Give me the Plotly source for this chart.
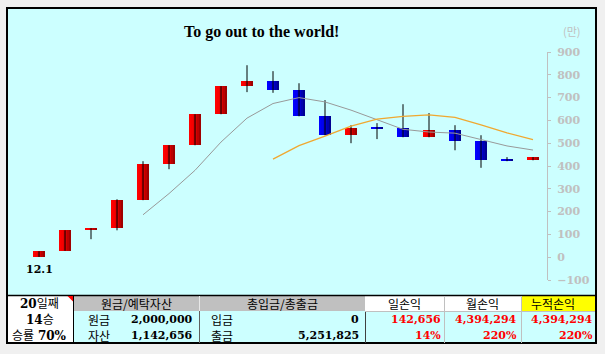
import plotly.graph_objects as go

# ---------------- data ----------------
days = list(range(1, 21))
first_label = "12.1"
opens = [1, 28, 118, 127, 250, 408, 491, 627, 750, 772, 732, 618, 535, 570, 566, 526, 557, 510, 430, 425]
highs = [26, 118, 127, 254, 421, 491, 627, 750, 842, 816, 763, 689, 579, 588, 671, 632, 579, 535, 439, 439]
lows = [1, 28, 79, 118, 250, 386, 491, 627, 724, 721, 618, 535, 500, 518, 526, 526, 469, 392, 421, 425]
closes = [26, 118, 127, 250, 408, 491, 627, 750, 772, 732, 618, 535, 566, 561, 526, 557, 510, 425, 421, 439]
ma5 = [None, None, None, None, 186, 279, 381, 505, 610, 674, 700, 681, 645, 602, 561, 549, 544, 516, 488, 470]
ma10 = [None] * 9 + [430, 489, 531, 575, 606, 618, 624, 613, 580, 545, 516]
y_ticks = [-100, 0, 100, 200, 300, 400, 500, 600, 700, 800, 900]

title_text = "To go out to the world!"
unit_text = "(만)"

left_col = ["<b>20</b>일째", "<b>14</b>승", "승률 <b>70%</b>"]
headers = ["원금/예탁자산", "총입금/총출금", "일손익", "월손익", "누적손익"]
asset_labels = ["원금", "자산"]
asset_values = ["2,000,000", "1,142,656"]
flow_labels = ["입금", "출금"]
flow_values = ["0", "5,251,825"]
daily_pl = ["142,656", "14%"]
monthly_pl = ["4,394,294", "220%"]
cumul_pl = ["4,394,294", "220%"]

# ---------------- geometry ----------------
W, H = 605, 354
PL, PR, PT, PB = 10, 547, 52, 280  # plot area in pixels
X0 = 1 + (PL - 39) / 26.0
X1 = 1 + (PR - 39) / 26.0


def px(x):
    return (x - PL) / (PR - PL)


def py(y):
    return (PB - y) / (PB - PT)


fig = go.Figure()

# wicks
wx, wy = [], []
for d, lo, hi in zip(days, lows, highs):
    wx += [d, d, None]
    wy += [lo, hi, None]
fig.add_trace(go.Scatter(x=wx, y=wy, mode="lines", line=dict(color="black", width=1),
                         hoverinfo="skip", showlegend=False))

# bodies with horizontal gradient (strips)
red_strips = ["#ff0000", "#f70000", "#e80000", "#d40000", "#bc0000", "#a00000"]
blue_strips = ["#0000ff", "#0000f2", "#0000e2", "#0000cc", "#0000b2", "#000092"]
base = [min(o, c) for o, c in zip(opens, closes)]
height = [abs(c - o) for o, c in zip(opens, closes)]
up = [c >= o for o, c in zip(opens, closes)]
for k in range(6):
    cols = [red_strips[k] if u else blue_strips[k] for u in up]
    fig.add_trace(go.Bar(x=days, y=height, base=base, width=2 / 26.0, offset=(-6 + 2 * k) / 26.0,
                         marker=dict(color=cols, line=dict(width=0)), hoverinfo="skip",
                         showlegend=False))

# moving averages
fig.add_trace(go.Scatter(x=days, y=ma5, mode="lines", line=dict(color="#999999", width=1),
                         hoverinfo="skip", showlegend=False))
fig.add_trace(go.Scatter(x=days, y=ma10, mode="lines", line=dict(color="#f0a830", width=1.3),
                         hoverinfo="skip", showlegend=False))

shapes = []
annotations = []

# frame
shapes.append(dict(type="rect", xref="paper", yref="paper", x0=px(7), x1=px(596), y0=py(8), y1=py(343),
                   fillcolor="#ccffff", line=dict(color="black", width=2), layer="below"))


def rect(x0, y0, x1, y1, fill):
    shapes.append(dict(type="rect", xref="paper", yref="paper", x0=px(x0), x1=px(x1), y0=py(y0), y1=py(y1),
                       fillcolor=fill, line=dict(width=0), layer="below"))


def line(x0, y0, x1, y1, color, width=1):
    shapes.append(dict(type="line", xref="paper", yref="paper", x0=px(x0), x1=px(x1), y0=py(y0), y1=py(y1),
                       line=dict(color=color, width=width), layer="above"))


# table cells
rect(8, 295, 73, 342, "white")
rect(73, 295, 199, 311, "#c0c0c0")
rect(199, 295, 365, 311, "#c0c0c0")
rect(365, 295, 521, 311, "white")
rect(521, 295, 595, 311, "#ffff00")
line(7, 295.5, 596, 295.5, "black", 1.5)
line(73.5, 295, 73.5, 343, "black", 1)
line(199.5, 296, 199.5, 311, "#e8e8e8", 1)
line(199.5, 311, 199.5, 343, "#606060", 1)
line(365.5, 311, 365.5, 343, "#404040", 1)
line(444.5, 296, 444.5, 343, "#c0c0c0", 1)
line(521.5, 296, 521.5, 343, "#c0c0c0", 1)
line(365, 311.5, 595, 311.5, "#c0c0c0", 1)
# comment marker triangle
shapes.append(dict(type="path", xref="paper", yref="paper",
                   path="M %f,%f L %f,%f L %f,%f Z" % (px(67.5), py(296), px(73), py(296), px(73), py(301.5)),
                   fillcolor="#ff0000", line=dict(width=0), layer="above"))

SERIF = "DejaVu Serif, Noto Sans CJK KR"
KR = "Noto Sans CJK KR, DejaVu Sans"


def text(x, y, s, anchor="center", size=11, color="black", family=SERIF):
    annotations.append(dict(x=px(x), y=py(y), xref="paper", yref="paper", text=s, showarrow=False,
                            xanchor=anchor, yanchor="middle", font=dict(family=family, size=size, color=color)))


# title and unit
text(261, 32, "<b>%s</b>" % title_text, size=16, family="Liberation Serif")
text(572, 31, unit_text, size=11, color="#c0c0c0", family=KR)

# first date label under first candle
annotations.append(dict(x=days[0], y=lows[0], xref="x", yref="y", text="<b>%s</b>" % first_label,
                        showarrow=False, xanchor="center", yanchor="top", yshift=-4,
                        font=dict(family=SERIF, size=11, color="black")))

# table texts
row_y = [303.5, 319.5, 335.5]
for s, yv in zip(left_col, row_y):
    text(39.5, yv, s, size=12, family="DejaVu Serif, Noto Sans CJK KR")
hx = [136, 282, 404.5, 482.5, 553]
for s, xv in zip(headers, hx):
    text(xv, row_y[0], s, size=12, family=KR)
for i in range(2):
    yv = row_y[i + 1]
    text(86, yv, asset_labels[i], anchor="left", size=12, family=KR)
    text(194.5, yv, "<b>%s</b>" % asset_values[i], anchor="right", size=11)
    text(209, yv, flow_labels[i], anchor="left", size=12, family=KR)
    text(361, yv, "<b>%s</b>" % flow_values[i], anchor="right", size=11)
    text(443, yv, "<b>%s</b>" % daily_pl[i], anchor="right", size=11, color="#ff0000")
    text(518.5, yv, "<b>%s</b>" % monthly_pl[i], anchor="right", size=11, color="#ff0000")
    text(594.5, yv, "<b>%s</b>" % cumul_pl[i], anchor="right", size=11, color="#ff0000")

fig.update_layout(
    width=W, height=H,
    margin=dict(l=PL, r=W - PR, t=PT, b=H - PB, pad=0),
    paper_bgcolor="#f0f0f0", plot_bgcolor="rgba(0,0,0,0)",
    barmode="overlay", bargap=0,
    showlegend=False,
    shapes=shapes, annotations=annotations,
    xaxis=dict(visible=False, range=[X0, X1], fixedrange=True),
    yaxis=dict(side="right", range=[-100, 900], tickvals=y_ticks, showgrid=False, zeroline=False,
               showline=True, linecolor="#c0c0c0", linewidth=1, ticks="outside", ticklen=3,
               tickcolor="#c0c0c0", ticklabelstandoff=4,
               tickfont=dict(family="DejaVu Serif", size=11, color="#c0c0c0", weight="bold"),
               fixedrange=True),
)

fig.write_html("out.html", include_plotlyjs=True, config={"displayModeBar": False})
